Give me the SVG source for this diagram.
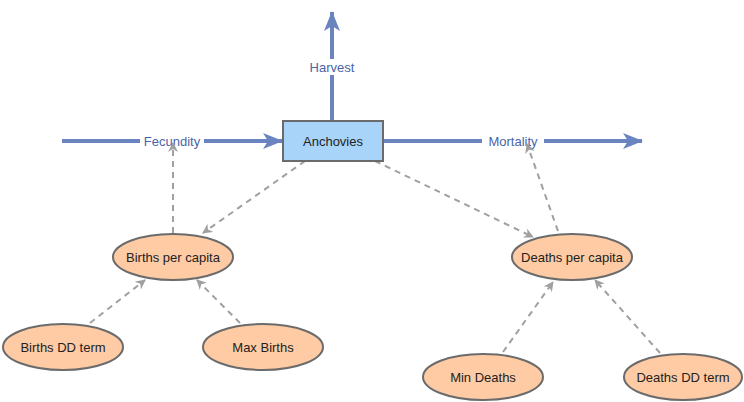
<svg xmlns="http://www.w3.org/2000/svg" width="744" height="402" viewBox="0 0 744 402">
<defs>
<marker id="fa" markerWidth="10" markerHeight="10" refX="9" refY="5" orient="auto" markerUnits="userSpaceOnUse" viewBox="0 0 10 10"><path d="M0,0 L10,5 L0,10 L3,5 Z" fill="#6a84c0"/></marker>
<marker id="fb" viewBox="0 0 20 20" markerWidth="20" markerHeight="20" refX="19" refY="10" orient="auto" markerUnits="userSpaceOnUse"><path d="M0,2 L20,10 L0,18 L5,10 Z" fill="#6a84c0"/></marker>
<marker id="da" viewBox="0 0 10 10" markerWidth="10" markerHeight="10" refX="9" refY="5" orient="auto" markerUnits="userSpaceOnUse"><path d="M0,0 L10,5 L0,10 L3,5 Z" fill="#a0a0a0"/></marker>
</defs>
<style>
.flow{stroke:#6a84c0;stroke-width:4;fill:none;marker-end:url(#fb)}
.link{stroke:#a0a0a0;stroke-width:2;stroke-dasharray:6,5;fill:none;marker-end:url(#da)}
.aux{fill:#ffcba4;stroke:#6b6b6b;stroke-width:2}
text{font-family:"Comic Sans MS","Liberation Sans",sans-serif;font-size:13px;text-anchor:middle;dominant-baseline:central;fill:#222}
.fl{fill:#4a64a8}
</style>
<g id="connectors">
<line class="flow" x1="62" y1="141" x2="282" y2="141"/>
<line class="flow" x1="383" y1="141" x2="642" y2="141"/>
<line class="flow" x1="332" y1="121" x2="332" y2="12"/>
<rect x="140" y="133" width="64" height="16" fill="#fff"/>
<text class="fl" x="172" y="141">Fecundity</text>
<rect x="482" y="133" width="62" height="16" fill="#fff"/>
<text class="fl" x="513" y="141">Mortality</text>
<rect x="305" y="59" width="54" height="16" fill="#fff"/>
<text class="fl" x="332" y="67">Harvest</text>
<line class="link" x1="305" y1="161" x2="203" y2="233"/>
<line class="link" x1="375" y1="161" x2="533" y2="237"/>
<line class="link" x1="173" y1="233" x2="173" y2="143"/>
<line class="link" x1="558" y1="231" x2="527" y2="144"/>
<line class="link" x1="90" y1="323" x2="145" y2="280"/>
<line class="link" x1="240" y1="323" x2="197" y2="280"/>
<line class="link" x1="503" y1="352" x2="553" y2="282"/>
<line class="link" x1="660" y1="353" x2="595" y2="280"/>
</g>
<g id="anchovies"><rect x="283" y="121" width="100" height="40" fill="#a8d4fa" stroke="#6b6b6b" stroke-width="2"/><text x="333" y="141">Anchovies</text></g>
<g id="births-per-capita"><ellipse class="aux" cx="173" cy="257" rx="60" ry="23"/><text x="173" y="257">Births per capita</text></g>
<g id="deaths-per-capita"><ellipse class="aux" cx="572" cy="257" rx="60" ry="23"/><text x="572" y="257">Deaths per capita</text></g>
<g id="births-dd-term"><ellipse class="aux" cx="63" cy="347" rx="60" ry="23"/><text x="63" y="347">Births DD term</text></g>
<g id="max-births"><ellipse class="aux" cx="263" cy="347" rx="60" ry="23"/><text x="263" y="347">Max Births</text></g>
<g id="min-deaths"><ellipse class="aux" cx="483" cy="377" rx="60" ry="23"/><text x="483" y="377">Min Deaths</text></g>
<g id="deaths-dd-term"><ellipse class="aux" cx="683" cy="377" rx="59" ry="23"/><text x="683" y="377">Deaths DD term</text></g>
</svg>
